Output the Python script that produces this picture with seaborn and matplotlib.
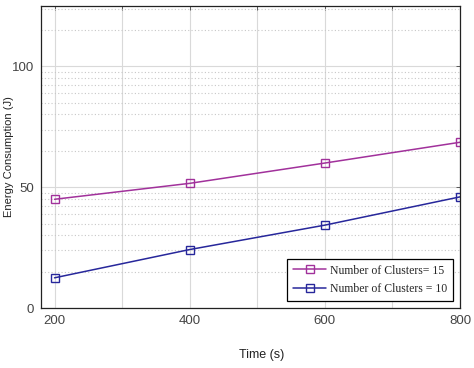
import numpy as np
import pandas as pd
import matplotlib
matplotlib.use("Agg")
import matplotlib.pyplot as plt
import seaborn as sns

# data
time_s = [200, 400, 600, 800]
energy_15 = [45.0, 51.6, 60.0, 68.6]
energy_10 = [12.5, 24.2, 34.3, 46.0]
labels = ["Number of Clusters= 15", "Number of Clusters = 10"]

sns.set_theme(style="white")
plt.rcParams['font.family'] = ['Liberation Sans', 'DejaVu Sans']

fig = plt.figure(figsize=(4.74, 3.68), dpi=100)
ax = fig.add_axes([0.0865, 0.163, 0.884, 0.8207])

df = pd.DataFrame({'time': time_s, 'c15': energy_15, 'c10': energy_10})

sns.lineplot(data=df, x='time', y='c15', ax=ax, color='#a1319b', marker='s',
             markersize=6, markerfacecolor='none', markeredgecolor='#a1319b',
             markeredgewidth=1.0, linewidth=1.1, label=labels[0])
sns.lineplot(data=df, x='time', y='c10', ax=ax, color='#27279b', marker='s',
             markersize=6, markerfacecolor='none', markeredgecolor='#27279b',
             markeredgewidth=1.0, linewidth=1.1, label=labels[1])

ax.set_xlim(180, 800)
ax.set_ylim(0, 125)
ax.set_xticks([200, 400, 600, 800])
ax.set_xticks([300, 500, 700], minor=True)
ax.set_yticks([0, 50, 100])
# MATLAB style log-like minor grid inside each 50 band
minor_y = [b + 50 * np.log10(k) for b in (0, 50, 100) for k in range(2, 10)]
ax.set_yticks([v for v in minor_y if v < 125], minor=True)

ax.grid(which='major', color='#d9d9d9', linewidth=0.8, linestyle='-')
ax.grid(which='minor', axis='y', color='#c8c8c8', linewidth=0.8, linestyle=(0, (1, 2)))
ax.grid(which='minor', axis='x', color='#d9d9d9', linewidth=0.8, linestyle='-')

ax.tick_params(which='both', direction='in', top=True, right=True,
               length=3, width=0.6, colors='#444444', labelsize=9.5, pad=5)
ax.tick_params(which='minor', axis='y', length=0)

for s in ax.spines.values():
    s.set_color('#222222')
    s.set_linewidth(0.9)

ax.set_xlabel("Time (s)", fontsize=9, color='#222222')
ax.set_ylabel("Energy Consumption (J)", fontsize=8, color='#222222')
ax.xaxis.set_label_coords(0.527, -0.135)
ax.yaxis.set_label_coords(-0.064, 0.5)

leg = ax.legend(loc='lower right', prop={'family': 'Liberation Serif', 'size': 8.5},
                frameon=True, fancybox=False, edgecolor='black', framealpha=1,
                borderpad=0.5, handlelength=2.8, handletextpad=0.3,
                borderaxespad=0.6, labelspacing=0.55)
leg.get_frame().set_linewidth(0.9)

fig.savefig("out.png", dpi=100)
